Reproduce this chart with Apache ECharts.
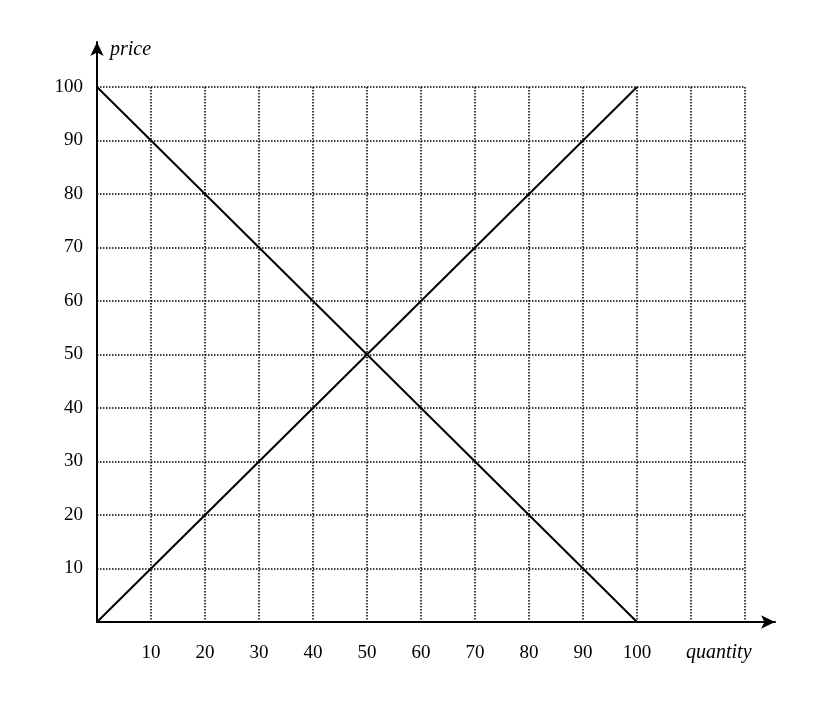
<!DOCTYPE html>
<html><head><meta charset="utf-8">
<script src="https://cdn.jsdelivr.net/npm/echarts@6/dist/echarts.min.js"></script>
<style>html,body{margin:0;background:#fff}#c{width:834px;height:718px}</style>
</head><body><div id="c"></div>
<script>
var supply = [[0, 0], [100, 100]];
var demand = [[0, 100], [100, 0]];
var chart = echarts.init(document.getElementById('c'));
var font = 'Liberation Serif';
function pt(p, name, off) {
  return {value: p, label: {show: true, formatter: name, offset: off, color: '#000', fontSize: 19, fontFamily: font}};
}
chart.setOption({
  backgroundColor: '#fff',
  animation: false,
  grid: [
    {left: 97, right: 89, top: 87, bottom: 96},
    {left: 97, right: 59, top: 42, bottom: 96}
  ],
  xAxis: [
    {gridIndex: 0, min: 0, max: 120, interval: 10,
     axisLine: {show: false}, axisTick: {show: false},
     axisLabel: {color: '#000', fontSize: 19, fontFamily: font, margin: 22,
       formatter: function (v) { return v > 0 && v <= 100 ? v : ''; }},
     splitLine: {lineStyle: {color: '#000', type: 'dotted', width: 1.5}}},
    {gridIndex: 1, min: 0, max: 1, axisLabel: {show: false}, axisTick: {show: false}, splitLine: {show: false},
     axisLine: {lineStyle: {color: '#000', width: 2}, symbol: ['none', 'arrow'], symbolSize: [10, 14]}}
  ],
  yAxis: [
    {gridIndex: 0, min: 0, max: 100, interval: 10,
     axisLine: {show: false}, axisTick: {show: false},
     axisLabel: {color: '#000', fontSize: 19, fontFamily: font, margin: 14,
       formatter: function (v) { return v > 0 ? v : ''; }},
     splitLine: {lineStyle: {color: '#000', type: 'dotted', width: 1.5}}},
    {gridIndex: 1, min: 0, max: 1, axisLabel: {show: false}, axisTick: {show: false}, splitLine: {show: false},
     axisLine: {lineStyle: {color: '#000', width: 2}, symbol: ['none', 'arrow'], symbolSize: [10, 14]}}
  ],
  graphic: [
    {type: 'text', left: 110, top: 40, style: {text: 'price', fontSize: 20, fontStyle: 'italic', fontFamily: font, fill: '#000'}},
    {type: 'text', left: 686, top: 643, style: {text: 'quantity', fontSize: 20, fontStyle: 'italic', fontFamily: font, fill: '#000'}}
  ],
  series: [
    {type: 'line', xAxisIndex: 0, yAxisIndex: 0, symbol: 'none', lineStyle: {color: '#000', width: 2},
     data: [supply[0], pt(supply[1], 'S', [31, 20])]},
    {type: 'line', xAxisIndex: 0, yAxisIndex: 0, symbol: 'none', lineStyle: {color: '#000', width: 2},
     data: [demand[0], pt(demand[1], 'D', [31, -10])]}
  ]
});
</script></body></html>
